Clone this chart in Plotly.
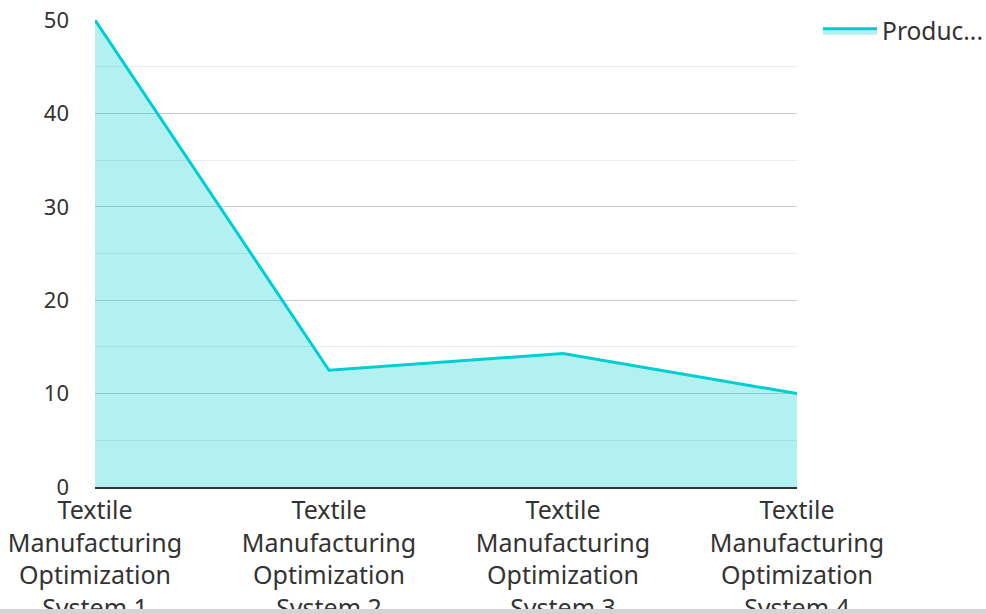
import plotly.graph_objects as go

categories = [
    "Textile<br>Manufacturing<br>Optimization<br>System 1",
    "Textile<br>Manufacturing<br>Optimization<br>System 2",
    "Textile<br>Manufacturing<br>Optimization<br>System 3",
    "Textile<br>Manufacturing<br>Optimization<br>System 4",
]
values = [50, 12.5, 14.3, 10]
series_name = "Produc..."
y_ticks = [0, 10, 20, 30, 40, 50]

font_family = "Noto Sans, Open Sans, sans-serif"

fig = go.Figure()
fig.add_trace(go.Scatter(
    x=categories, y=values, name=series_name, mode="lines",
    line=dict(color="#00CED1", width=3),
    fill="tozeroy", fillcolor="rgba(0,206,209,0.3)",
))

fig.update_layout(
    width=986, height=614,
    margin=dict(l=95, r=189, t=20, b=127, autoexpand=False),
    paper_bgcolor="white", plot_bgcolor="white",
    font=dict(family=font_family, size=24, color="#333333"),
    showlegend=True,
    legend=dict(x=1.03, y=1.025, xanchor="left", yanchor="top",
                font=dict(size=24.5, color="#333333"), itemwidth=54,
                bgcolor="rgba(0,0,0,0)"),
    xaxis=dict(
        type="category", range=[0, 3], showgrid=False, automargin=False,
        showline=True, linecolor="#333333", linewidth=2,
        ticks="", tickfont=dict(size=25, color="#333333"),
        tickangle=0, zeroline=False,
    ),
    yaxis=dict(
        range=[0, 50], tickvals=y_ticks, showgrid=True, automargin=False,
        gridcolor="#cccccc", gridwidth=1, zeroline=False,
        showline=False, ticks="", ticklabelstandoff=25,
        tickfont=dict(size=22, color="#333333"),
        minor=dict(dtick=5, showgrid=True, gridcolor="#ebebeb", gridwidth=1),
    ),
    shapes=[dict(type="rect", xref="paper", yref="paper",
                 x0=-95/702, x1=(986-95)/702,
                 y0=-(609-487)/467, y1=-(614-487)/467 - 0.01,
                 fillcolor="#d4d4d4", line=dict(width=0), layer="above")],
)

fig.write_html("out.html")
